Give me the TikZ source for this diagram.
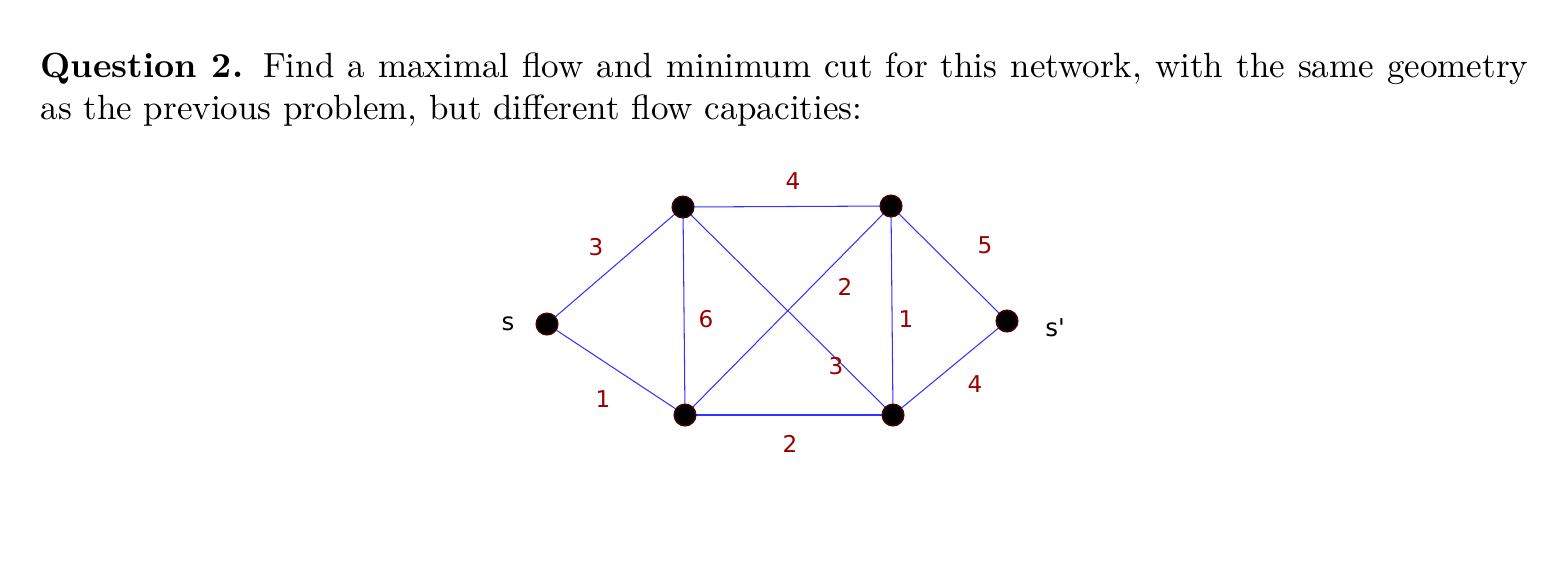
\documentclass[tikz,border=0pt]{standalone}
\usepackage{fontspec}
\newfontfamily\lblfont{DejaVu Sans}
\begin{document}
\begin{tikzpicture}[x=0.2857pt,y=-0.2857pt,
  vtx/.style={circle,fill=black,draw=black!70!red,inner sep=0pt,minimum size=6.2pt},
  edge/.style={draw=blue!80!white,line width=0.3pt},
  capl/.style={text=red!60!black,font=\lblfont\fontsize{6.6}{7}\selectfont},
  vlab/.style={font=\lblfont\fontsize{7}{8}\selectfont}]
\useasboundingbox (0,0) rectangle (1568,564);
\node[anchor=north west,text width=425pt,align=justify,inner sep=0pt,font=\fontsize{10}{12}\selectfont] (q) at (40,52)
 {\textbf{Question 2.} Find a maximal flow and minimum cut for this network, with the same geometry as the previous problem, but different flow capacities:};
\coordinate (s) at (547,324);
\coordinate (a) at (683,207);
\coordinate (b) at (891,206);
\coordinate (c) at (685,415);
\coordinate (d) at (893,415);
\coordinate (t) at (1007,321);
\draw[edge] (s)--(a); \draw[edge] (s)--(c); \draw[edge] (a)--(b);
\draw[edge] (a)--(c); \draw[edge] (a)--(d); \draw[edge] (c)--(b);
\draw[edge] (b)--(d); \draw[edge] (c)--(d); \draw[edge] (b)--(t); \draw[edge] (d)--(t);
\node[vtx] (sv) at (s) {};
\node[vtx] (av) at (a) {};
\node[vtx] (bv) at (b) {};
\node[vtx] (cv) at (c) {};
\node[vtx] (dv) at (d) {};
\node[vtx] (tv) at (t) {};
\node[vlab] (sl) at (508,324) {s};
\node[vlab] (tl) at (1055,328) {s'};
\node[capl] (l1) at (793,181) {4};
\node[capl] (l2) at (596,247) {3};
\node[capl] (l3) at (985,245) {5};
\node[capl] (l4) at (845,287) {2};
\node[capl] (l5) at (706,319) {6};
\node[capl] (l6) at (906,319) {1};
\node[capl] (l7) at (836,366) {3};
\node[capl] (l8) at (975,384) {4};
\node[capl] (l9) at (603,399) {1};
\node[capl] (l10) at (790,444) {2};
\end{tikzpicture}
\end{document}
